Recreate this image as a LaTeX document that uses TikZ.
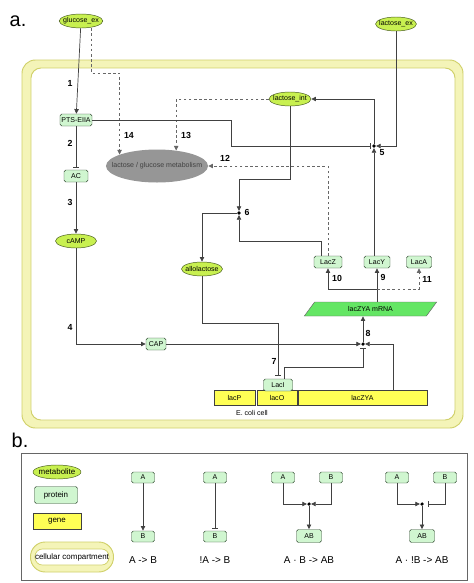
\documentclass[tikz,border=0pt]{standalone}
\usepackage{fontspec}
\setmainfont{Liberation Sans}
\usetikzlibrary{shapes.geometric, arrows.meta, positioning}
\definecolor{metabfill}{RGB}{200,240,80}
\definecolor{metabline}{RGB}{70,90,30}
\definecolor{protfill}{RGB}{208,246,208}
\definecolor{protline}{RGB}{45,70,45}
\definecolor{genefill}{RGB}{255,255,85}
\definecolor{mrnafill}{RGB}{100,230,100}
\definecolor{procfill}{RGB}{150,150,150}
\definecolor{compband}{RGB}{244,244,184}
\definecolor{compline}{RGB}{208,208,105}
\definecolor{linecol}{RGB}{65,65,65}
\newcommand{\nodefont}{\fontsize{6}{7}\selectfont}
\newcommand{\legfont}{\fontsize{6.8}{8}\selectfont}
\tikzset{
  metab/.style={ellipse, draw=metabline, fill=metabfill, inner xsep=-2pt, inner ysep=0pt,
    minimum width=1.2cm, minimum height=0.42cm, font=\nodefont},
  prot/.style={rectangle, draw=protline, fill=protfill, rounded corners=1.5pt,
    inner sep=1pt, minimum height=0.36cm, font=\nodefont},
  gene/.style={rectangle, draw=black!75, fill=genefill, inner sep=1pt,
    minimum height=0.45cm, font=\nodefont},
  mrna/.style={trapezium, trapezium left angle=60, trapezium right angle=120,
    trapezium stretches=true, draw=black!60, fill=mrnafill, inner sep=1pt,
    minimum width=3.99cm, minimum height=0.42cm, font=\nodefont},
  process/.style={ellipse, fill=procfill, text=black!75, inner xsep=-12pt,
    minimum width=3.06cm, minimum height=0.99cm, font=\nodefont},
  junc/.style={circle, fill=black, inner sep=0pt, minimum size=3pt},
  num/.style={font=\fontsize{7.5}{9}\selectfont\bfseries},
  capt/.style={font=\fontsize{8.5}{10}\selectfont},
  panel/.style={font=\fontsize{17}{20}\selectfont},
  arr/.style={-{Triangle[length=4pt, width=3.8pt]}, linecol, line width=0.6pt},
  arrdash/.style={-{Triangle[length=4pt, width=3.8pt]}, linecol!80, line width=0.6pt,
    dash pattern=on 2.2pt off 2.2pt},
  inh/.style={-{Bar[width=4.5pt]}, linecol, line width=0.6pt, shorten >=1.5pt},
}
\begin{document}
\begin{tikzpicture}[x=0.03cm, y=-0.03cm]
\useasboundingbox (0,0) rectangle (474,583);

% cell compartment
\draw[fill=compband, draw=compline, line width=0.8pt, rounded corners=0.4cm] (22,60) rectangle (463,428);
\draw[fill=white, draw=compline, line width=0.8pt, rounded corners=0.3cm] (31,68) rectangle (455,420);

\node[panel] (pa) at (18,21) {a.};

\node[metab] (glcex) at (81,21) {glucose\_ex};
\node[metab] (lacex) at (396,24) {lactose\_ex};
\node[prot, minimum width=0.96cm] (pts) at (76,120) {PTS-EIIA};
\node[prot, minimum width=0.72cm] (ac) at (76,176) {AC};
\node[metab, minimum width=1.23cm] (camp) at (76,241) {cAMP};
\node[process] (metab) at (157,166) {lactose / glucose metabolism};
\node[metab, minimum width=1.26cm] (lacint) at (290,99) {lactose\_int};
\node[metab, minimum width=1.23cm] (allo) at (202,269) {allolactose};
\node[prot, minimum width=0.84cm] (lacz) at (328,262) {LacZ};
\node[prot, minimum width=0.78cm] (lacy) at (377,262) {LacY};
\node[prot, minimum width=0.75cm] (laca) at (419,262) {LacA};
\node[mrna] (mrna) at (370.5,309) {lacZYA mRNA};
\node[prot, minimum width=0.6cm] (cap) at (156,344) {CAP};
\node[gene, minimum width=1.23cm] (lacp) at (234.5,397.5) {lacP};
\node[gene, minimum width=1.2cm] (laco) at (277,397.5) {lacO};
\node[gene, minimum width=3.87cm] (laczya) at (362.5,397.5) {lacZYA};
\node[prot, minimum width=0.87cm] (laci) at (278,385) {LacI};
\node[font=\nodefont, anchor=west] (cell) at (232,413) {E. coli cell};

\node[junc] (j5) at (374,146) {};
\node[junc] (j6) at (239,213) {};
\node[junc] (j8) at (363,344) {};

% connectors
\draw[arr] (glcex) -- (pts);
\draw[inh] (pts) -- (ac);
\draw[arr] (ac) -- (camp);
\draw[arr] (camp.south) |- (cap);
\draw[arrdash] ([xshift=0.3cm]glcex.south) |- (metab.163 |- 0,73) -- (metab.163);
\draw[arrdash] (lacint.west) -| (metab.39);
\draw[arrdash] (lacz.north) |- (metab.east);
\draw[inh] (pts.east) -- (231,120) |- (j5);
\draw[arr] (lacex.south) |- (j5);
\draw[arr] (j5 |- lacy.north) -- (j5);
\draw[arr] (j5) |- (lacint.east);
\draw[arr] (lacint.south) |- (j6 |- 0,179) -- (j6);
\draw[arr] ([xshift=-0.21cm]lacz.north) |- (j6 |- 0,241) -- (j6);
\draw[arr] (j6) -| (allo.north);
\draw[arr] (lacy |- mrna.north) -- (lacy.south);
\draw[arr] (lacy |- mrna.north) -- (lacy |- 0,289) -| (lacz.south);
\draw[arrdash] (lacy |- 0,289) -| (laca.south);
\draw[inh, shorten >=3pt] (allo.south) |- (laci.north |- 0,323) -- (laci.north);
\draw[inh] ([xshift=0.18cm]laci.north) |- (j8 |- 0,367) -- (j8);
\draw[arr] (cap.east) -- (j8);
\draw[arr] ([xshift=0.93cm]laczya.north) |- (j8);
\draw[arr] (j8) -- (mrna.south -| j8);

\node[num] at (70,83) {1};
\node[num] at (70,143) {2};
\node[num] at (70,202) {3};
\node[num] at (70,327) {4};
\node[num] at (382,153) {5};
\node[num] at (247,212) {6};
\node[num] at (274,361) {7};
\node[num] at (368,333) {8};
\node[num] at (383,277) {9};
\node[num] at (337,278) {10};
\node[num] at (427,279) {11};
\node[num] at (225,158) {12};
\node[num] at (186,135) {13};
\node[num] at (129,135) {14};

% legend
\node[panel] (pb) at (20,440) {b.};
\draw[draw=black!60, line width=0.8pt] (21,453) rectangle (467,580);

\node[metab, minimum width=1.44cm, font=\legfont] (legmet) at (57,472) {metabolite};
\node[prot, minimum width=1.29cm, minimum height=0.51cm, font=\legfont] (legprot) at (56,495) {protein};
\node[gene, minimum width=1.44cm, minimum height=0.48cm, font=\legfont] (leggene) at (57,521) {gene};
\node[rectangle, fill=compband, draw=compline, line width=0.8pt, rounded corners=0.44cm,
  minimum width=2.49cm, minimum height=0.9cm] (legcomp) at (72,557) {};
\node[rectangle, fill=white, draw=compline, line width=0.6pt, rounded corners=0.22cm,
  minimum width=2.2cm, minimum height=0.48cm, inner sep=0pt, font=\legfont] (legcomptext) at (legcomp) {cellular compartment};

\node[prot, minimum width=0.69cm, minimum height=0.33cm] (a1) at (143,477.5) {A};
\node[prot, minimum width=0.69cm, minimum height=0.33cm] (b1) at (143,536.5) {B};
\node[prot, minimum width=0.69cm, minimum height=0.33cm] (a2) at (215,477.5) {A};
\node[prot, minimum width=0.69cm, minimum height=0.33cm] (b2) at (215,536.5) {B};
\node[prot, minimum width=0.69cm, minimum height=0.33cm] (a3) at (283,477.5) {A};
\node[prot, minimum width=0.69cm, minimum height=0.33cm] (b3) at (331,477.5) {B};
\node[prot, minimum width=0.75cm, minimum height=0.39cm] (ab3) at (309,536) {AB};
\node[prot, minimum width=0.69cm, minimum height=0.33cm] (a4) at (397,477.5) {A};
\node[prot, minimum width=0.69cm, minimum height=0.33cm] (b4) at (445,477.5) {B};
\node[prot, minimum width=0.75cm, minimum height=0.39cm] (ab4) at (422,536) {AB};
\node[junc] (jb1) at (309,504) {};
\node[junc] (jb2) at (422,504) {};

\draw[arr] (a1) -- (b1);
\draw[inh] (a2) -- (b2);
\draw[arr] (a3.south) |- (jb1);
\draw[arr] (b3.south) |- (jb1);
\draw[arr] (jb1) -- (ab3);
\draw[arr] (a4.south) |- (jb2);
\draw[inh, shorten >=3pt] (b4.south) |- (jb2);
\draw[arr] (jb2) -- (ab4);

\node[capt] at (143,560) {A -> B};
\node[capt] at (215,560) {!A -> B};
\node[capt] at (309,560) {A · B -> AB};
\node[capt] at (422,560) {A · !B -> AB};
\end{tikzpicture}
\end{document}
